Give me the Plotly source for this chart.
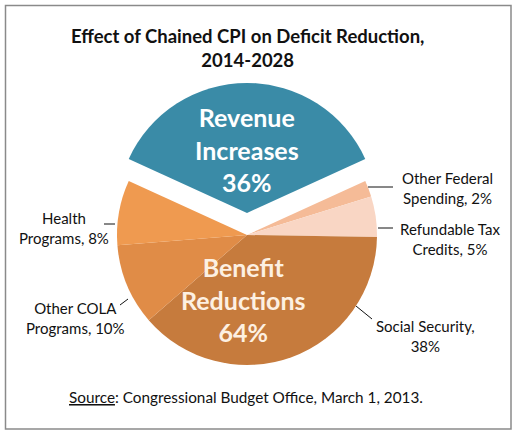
import plotly.graph_objects as go

W, H = 517, 434

# slice data (clockwise starting with the pulled-out slice)
labels = ["Revenue Increases", "Other Federal Spending", "Refundable Tax Credits",
          "Social Security", "Other COLA Programs", "Health Programs"]
values = [36, 2, 5, 38, 10, 8]
colors = ["#3a8ba7", "#f5bb97", "#f9d6c4", "#c67b3d", "#e08c47", "#ef9a50"]
pulls = [0.17, 0, 0, 0, 0, 0]

group_labels = ["Revenue<br>Increases<br>36%", "Benefit<br>Reductions<br>64%"]
slice_labels = ["Other Federal<br>Spending, 2%", "Refundable Tax<br>Credits, 5%",
                "Social Security,<br>38%", "Other COLA<br>Programs, 10%",
                "Health<br>Programs, 8%"]

FONT = "Lato"


def px(x, y):
    # pixel position -> paper coords
    return x / W, 1 - y / H


# pie box: centre (247, 235) px, radius 130 px, room for the pull
r = 130
box = 2 * r * (1 + max(pulls))
cx, cy = 247, 235
dom_x = [(cx - box / 2) / W, (cx + box / 2) / W]
dom_y = [1 - (cy + box / 2) / H, 1 - (cy - box / 2) / H]

# centre the first slice on 12 o'clock
rot = -180 * values[0] / sum(values)

fig = go.Figure(go.Pie(
    labels=labels, values=values, sort=False, direction="clockwise",
    rotation=rot, pull=pulls, marker=dict(colors=colors, line=dict(width=0)),
    textinfo="none", hoverinfo="label+percent", showlegend=False,
    domain=dict(x=dom_x, y=dom_y),
))

ann = []
# title
x, y = px(247, 48)
ann.append(dict(x=x, y=y, text="<b>Effect of Chained CPI on Deficit Reduction,<br>2014-2028</b>",
                font=dict(size=18.5, color="#111111", family=FONT)))
# big group labels
x, y = px(247, 150)
ann.append(dict(x=x, y=y, text="<b>" + group_labels[0] + "</b>",
                font=dict(size=25, color="#ffffff", family=FONT)))
x, y = px(243, 299)
ann.append(dict(x=x, y=y, text="<b>" + group_labels[1] + "</b>",
                font=dict(size=25, color="#fdf0e2", family=FONT)))

# slice labels and leader lines
label_pos = [(447, 188), (450, 239), (425, 336), (75, 318), (64, 228)]
leaders = [((368, 187), (393, 187)), ((378, 228), (393, 228)),
           ((356, 306), (372, 319)), ((120, 305), (128, 299)),
           ((104, 224), (115, 224))]
shapes = []
for txt, (lx, ly), ((x0, y0), (x1, y1)) in zip(slice_labels, label_pos, leaders):
    x, y = px(lx, ly)
    ann.append(dict(x=x, y=y, text=txt, font=dict(size=15, color="#111111", family=FONT)))
    a, b = px(x0, y0)
    c, d = px(x1, y1)
    shapes.append(dict(type="line", xref="paper", yref="paper", x0=a, y0=b, x1=c, y1=d,
                       line=dict(color="#111111", width=1)))

# source note
x, y = px(246, 397)
ann.append(dict(x=x, y=y, text="<u>Source</u>: Congressional Budget Office, March 1, 2013.",
                font=dict(size=15.3, color="#111111", family=FONT)))

for a_ in ann:
    a_.update(xref="paper", yref="paper", showarrow=False, xanchor="center", yanchor="middle")

# frame
a, b = px(5.5, 5.5)
c, d = px(511, 429)
shapes.append(dict(type="rect", xref="paper", yref="paper", x0=a, y0=b, x1=c, y1=d,
                   line=dict(color="#8a8a8a", width=1.5)))

fig.update_layout(
    width=W, height=H,
    margin=dict(l=0, r=0, t=0, b=0),
    paper_bgcolor="white",
    annotations=ann,
    shapes=shapes,
)

# page body has a default 8px margin; drop it so the figure fills the window
fig.write_html("out.html", config={"displayModeBar": False},
               post_script="document.body.style.margin='0';")
